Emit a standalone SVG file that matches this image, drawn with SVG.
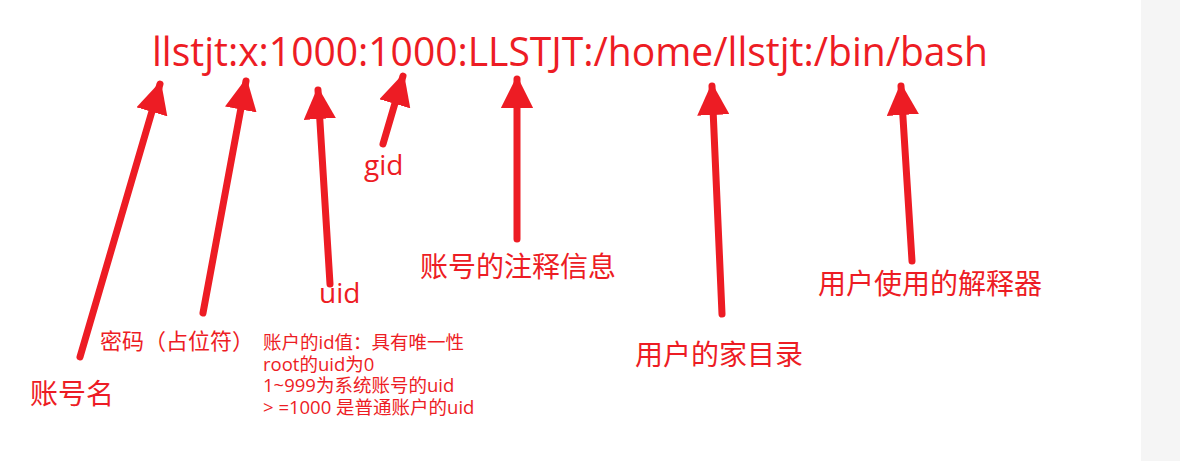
<svg xmlns="http://www.w3.org/2000/svg" width="1180" height="461" viewBox="0 0 1180 461">
<style>
text{fill:#ED1C24;font-family:"Open Sans","Noto Sans CJK SC",sans-serif}
.a{stroke:#ED1C24;stroke-width:7;stroke-linecap:round;fill:none;marker-end:url(#h)}
.l{font-size:28px}
.s{font-size:18.5px}
</style>
<defs><marker id="h" viewBox="0 0 10 10" refX="9" refY="5" markerWidth="4.6" markerHeight="4.6" orient="auto" markerUnits="strokeWidth"><path d="M0,0L10,5L0,10z" fill="#ED1C24"/></marker></defs>
<rect width="1180" height="461" fill="#fff"/>
<rect x="1141" y="0" width="39" height="461" fill="#f5f5f5"/>
<g id="title"><text x="152" y="66" font-size="40" textLength="836" lengthAdjust="spacingAndGlyphs">llstjt:x:1000:1000:LLSTJT:/home/llstjt:/bin/bash</text></g>
<g id="connectors">
<line class="a" x1="80" y1="357" x2="160" y2="84"/>
<line class="a" x1="203" y1="313" x2="246" y2="81"/>
<line class="a" x1="330" y1="284" x2="318" y2="90"/>
<line class="a" x1="383" y1="144" x2="403" y2="76"/>
<line class="a" x1="517" y1="239" x2="517" y2="79"/>
<line class="a" x1="722" y1="314" x2="712" y2="86"/>
<line class="a" x1="912" y1="261" x2="901" y2="86"/>
</g>
<g id="n-gid"><text class="l" x="364" y="175">gid</text></g>
<g id="n-comment"><text class="l" x="420" y="277">账号的注释信息</text></g>
<g id="n-uid"><text class="l" x="319" y="303">uid</text></g>
<g id="n-shell"><text class="l" x="818" y="294">用户使用的解释器</text></g>
<g id="n-pass"><text x="100" y="349" font-size="22">密码（占位符）</text></g>
<g id="n-uidnote"><text class="s" x="263" y="349">账户的id值：具有唯一性</text><text class="s" x="263" y="371">root的uid为0</text><text class="s" x="263" y="392">1~999为系统账号的uid</text><text class="s" x="263" y="414">&gt; =1000 是普通账户的uid</text></g>
<g id="n-name"><text class="l" x="30" y="404">账号名</text></g>
<g id="n-home"><text class="l" x="635" y="365">用户的家目录</text></g>
</svg>
